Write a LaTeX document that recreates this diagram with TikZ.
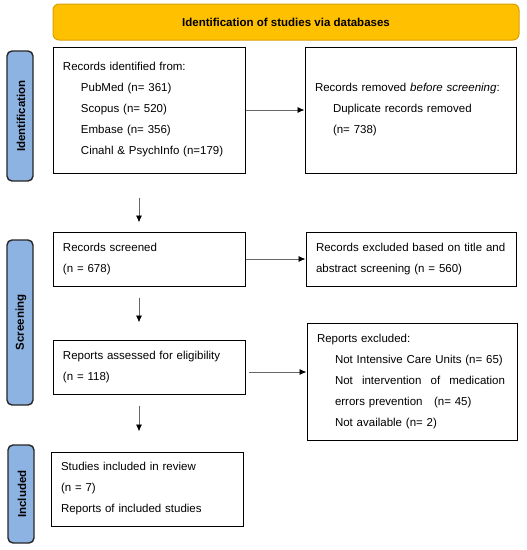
\documentclass[tikz,border=0pt]{standalone}
\usepackage{fontspec}
\setmainfont{Liberation Sans}
\usetikzlibrary{arrows.meta}
\definecolor{headgold}{HTML}{FFC000}
\definecolor{headedge}{HTML}{D9A000}
\definecolor{tabblue}{HTML}{8DB3E2}
\begin{document}
\begin{tikzpicture}[x=1pt,y=-1pt]
\tikzstyle{every node}=[font=\fontsize{11.5}{21}\selectfont]
\tikzstyle{rec}=[draw, line width=1pt, inner xsep=10pt, inner ysep=0pt, align=left]
\tikzstyle{tab}=[draw=black!85, fill=tabblue, line width=1.4pt, rounded corners=5pt, minimum width=26pt, inner sep=0pt]
\tikzstyle{tablab}=[font=\fontsize{11.5}{13}\bfseries, rotate=90]
\tikzstyle{arr}=[-{Latex[length=7pt,width=6pt,black]}, draw=black!60, line width=0.9pt]
\useasboundingbox (0,0) rectangle (527,550);
% header
\draw (286,22) node (head) [draw=headedge, fill=headgold, line width=1pt, rounded corners=6pt, minimum width=466pt, minimum height=36pt] {\bfseries Identification of studies via databases};
% phase tabs
\draw (20,116) node (tid) [tab, minimum height=130pt] {};
\draw (21,116) node [tablab] {Identification};
\draw (20,322.5) node (tscr) [tab, minimum height=165pt] {};
\draw (21,322.5) node [tablab] {Screening};
\draw (21,494) node (tinc) [tab, minimum height=98pt] {};
\draw (22,494) node [tablab] {Included};
% records
\draw (149,110) node (ident) [rec, text width=172pt, minimum height=126pt] {Records identified from:\\
\hspace*{18pt}PubMed (n= 361)\\
\hspace*{18pt}Scopus (n= 520)\\
\hspace*{18pt}Embase (n= 356)\\
\hspace*{18pt}Cinahl \& PsychInfo (n=179)};
\draw (410.5,110) node (dupl) [rec, text width=191pt, minimum height=126pt] {Records removed \textit{before screening}:\\
\hspace*{18pt}Duplicate records removed\\
\hspace*{18pt}(n= 738)};
\draw (149,259) node (scr) [rec, text width=172pt, minimum height=54pt] {Records screened\\(n = 678)};
\draw (411,259) node (excl) [rec, text width=190pt, minimum height=54pt] {Records excluded based on title and\\abstract screening (n = 560)};
\draw (149,367) node (elig) [rec, text width=172pt, minimum height=54pt] {Reports assessed for eligibility\\(n = 118)};
\draw (412,381.5) node (rexcl) [rec, text width=190pt, minimum height=117pt] {Reports excluded:\\
\hspace*{18pt}Not Intensive Care Units (n= 65)\\
\hspace*{18pt}\makebox[170pt][s]{Not\hfill intervention\hfill of\hfill medication}\\
\hspace*{18pt}errors prevention\quad(n= 45)\\
\hspace*{18pt}Not available (n= 2)};
\draw (147,489) node (incl) [rec, text width=172pt, minimum height=74pt] {Studies included in review\\(n = 7)\\Reports of included studies};
% arrows
\draw [arr] (ident.east) -- (dupl.west);
\draw [arr] (scr.east) -- (excl.west);
\draw [arr, shorten <=3pt] (elig.east |- 0,372) -- (rexcl.west |- 0,372);
\draw [arr, shorten <=24pt, shorten >=9pt] ([xshift=-10pt]ident.south) -- ([xshift=-10pt]scr.north);
\draw [arr, shorten <=11pt, shorten >=17pt] ([xshift=-10pt]scr.south) -- ([xshift=-10pt]elig.north);
\draw [arr, shorten <=11pt, shorten >=20pt] ([xshift=-10pt]elig.south) -- ([xshift=-8pt]incl.north);
\end{tikzpicture}
\end{document}
